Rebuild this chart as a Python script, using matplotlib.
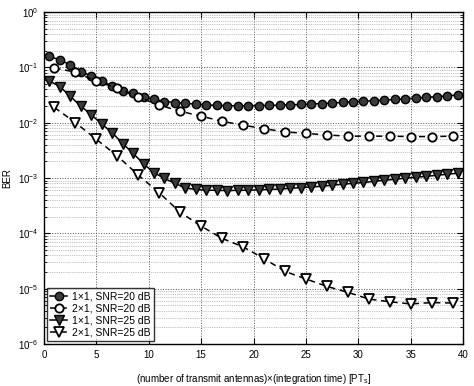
import numpy as np
import matplotlib
matplotlib.use("Agg")
import matplotlib.pyplot as plt
from matplotlib.ticker import LogLocator, NullFormatter

x_1x1 = np.arange(0.5, 40, 1.0)
x_2x1 = np.arange(1, 40, 2)

ber_1x1_20 = [0.157, 0.137, 0.111, 0.084, 0.070, 0.057, 0.046, 0.0375, 0.0337, 0.0297,
              0.0265, 0.0241, 0.0231, 0.0225, 0.0215, 0.021, 0.0205, 0.0203, 0.0202, 0.0202,
              0.0203, 0.0205, 0.0207, 0.021, 0.0213, 0.0217, 0.0222, 0.0227, 0.0232, 0.0238,
              0.0244, 0.025, 0.0256, 0.0263, 0.027, 0.0278, 0.0286, 0.0295, 0.0305, 0.0318]
ber_2x1_20 = [0.097, 0.082, 0.056, 0.042, 0.029, 0.0207, 0.0161, 0.0131, 0.0106, 0.0090,
              0.0078, 0.0068, 0.0064, 0.0060, 0.0057, 0.0057, 0.0057, 0.0056, 0.0056, 0.0057]
ber_1x1_25 = [0.057, 0.045, 0.030, 0.020, 0.014, 0.0095, 0.0066, 0.0042, 0.0028, 0.0018,
              0.00125, 0.00098, 0.00080, 0.00066, 0.00062, 0.00060, 0.00060, 0.00059, 0.00060, 0.00060,
              0.00061, 0.00062, 0.00063, 0.00065, 0.00067, 0.00069, 0.00071, 0.00074, 0.00077, 0.00080,
              0.00083, 0.00087, 0.00091, 0.00095, 0.00099, 0.00103, 0.00107, 0.00112, 0.00117, 0.00122]
ber_2x1_25 = [0.0188, 0.0100, 0.0050, 0.0025, 0.00113, 5.4e-4, 2.4e-4, 1.35e-4, 8.1e-5, 5.7e-5,
              3.5e-5, 2.05e-5, 1.5e-5, 1.1e-5, 8.6e-6, 6.5e-6, 5.8e-6, 5.3e-6, 5.6e-6, 5.5e-6]

labels = ["1\u00d71, SNR=20 dB", "2\u00d71, SNR=20 dB", "1\u00d71, SNR=25 dB", "2\u00d71, SNR=25 dB"]
xticks = [0, 5, 10, 15, 20, 25, 30, 35, 40]

plt.rcParams['font.family'] = ['Liberation Sans', 'DejaVu Sans']

fig = plt.figure(figsize=(4.74, 3.86), dpi=100)
ax = fig.add_axes([44/474, 1-344/386, (463-44)/474, (344-12)/386])

fill = '#3a3a3a'
ms = 6
ax.semilogy(x_1x1, ber_1x1_20, '-', color='black', lw=1.1, marker='o', ms=ms,
            mfc=fill, mec='black', mew=1.0, label=labels[0], zorder=3)
ax.semilogy(x_2x1, ber_2x1_20, '--', color='black', lw=1.1, marker='o', ms=ms,
            mfc='white', mec='black', mew=1.3, label=labels[1], zorder=3, dashes=(4, 3))
ax.semilogy(x_1x1, ber_1x1_25, '-', color='black', lw=1.1, marker='v', ms=ms+0.5,
            mfc=fill, mec='black', mew=1.0, label=labels[2], zorder=3)
ax.semilogy(x_2x1, ber_2x1_25, '--', color='black', lw=1.1, marker='v', ms=ms+0.5,
            mfc='white', mec='black', mew=1.3, label=labels[3], zorder=3, dashes=(4, 3))

ax.set_xlim(0, 40)
ax.set_ylim(1e-6, 1)
ax.set_xticks(xticks)
ax.set_xticklabels([str(t) for t in xticks])
ax.yaxis.set_major_locator(LogLocator(base=10, numticks=10))
ax.yaxis.set_minor_locator(LogLocator(base=10, subs=np.arange(2, 10), numticks=100))
ax.yaxis.set_minor_formatter(NullFormatter())

ax.grid(True, which='major', linestyle=':', color='#555555', lw=0.7)
ax.grid(True, which='minor', axis='y', linestyle=':', color='#888888', lw=0.5)
ax.tick_params(which='both', direction='in', top=True, right=True, labelsize=7, pad=4)
ax.tick_params(which='major', length=4)
ax.tick_params(which='minor', length=2)
for s in ax.spines.values():
    s.set_linewidth(1.0)

ax.set_xlabel("(number of transmit antennas)\u00d7(integration time) [PT$_\\mathregular{s}$]",
              fontsize=7, labelpad=9)
ax.set_ylabel("BER", fontsize=7)
ax.yaxis.set_label_coords(-0.075, 0.5)

leg = ax.legend(loc='lower left', fontsize=7.5, frameon=True, fancybox=False,
                edgecolor='black', handlelength=1.6, borderpad=0.3, labelspacing=0.2,
                handletextpad=0.5, borderaxespad=0.3)
leg.get_frame().set_linewidth(1.0)

fig.savefig("out.png", dpi=100)
